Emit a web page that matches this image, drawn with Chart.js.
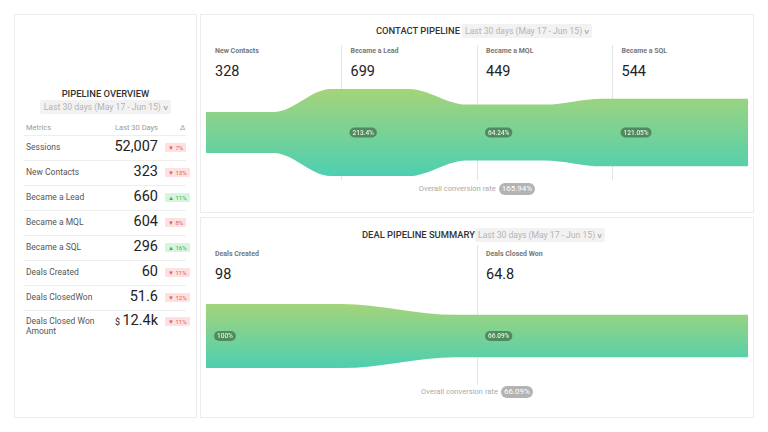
<!DOCTYPE html>
<html><head><meta charset="utf-8">
<script src="https://cdn.jsdelivr.net/npm/chart.js@4.4.1/dist/chart.umd.min.js"></script>
<style>
body{margin:0;width:768px;height:432px;background:#fff;font-family:Roboto,"Noto Sans",sans-serif;position:relative;overflow:hidden}
.panel{position:absolute;border:1px solid #ececec;box-sizing:border-box}
.abs{position:absolute;white-space:nowrap}
.title{font-size:9.4px;font-weight:500;color:#333}
.dd{background:#f2f2f2;color:#b4b4b4;font-size:8.6px;height:14px;line-height:14px;padding:0 3px;border-radius:2px;box-sizing:border-box}
.dd .chev{display:inline-block;margin-left:3px;font-size:7px;color:#999;transform:scaleX(1.4)}
.slabel{font-size:7px;font-weight:700;color:#777}
.sval{font-size:14.5px;color:#222}
.mlabel{font-size:8.5px;color:#555}
.mval{font-size:14.5px;color:#222;text-align:right}
.bdg{font-size:6px;height:9px;line-height:9px;padding:0 3px;border-radius:1px}
.neg{background:#fde0e0;color:#e35d5d}
.pos{background:#d8f4dd;color:#35b25a}
.sep{position:absolute;left:24px;width:162px;height:1px;background:#eeeeee}
.overall{position:absolute;text-align:center;font-size:7.6px;color:#aaa}
.overall .ob{display:inline-block;background:#b3b3b3;color:#fff;border-radius:6px;padding:0 3px;height:12px;line-height:12px;margin-left:3px;font-size:8px}
.cwrap{position:absolute}
</style></head>
<body>
<div class="panel" style="left:14px;top:14px;width:183px;height:404px"></div>
<div class="panel" style="left:200px;top:14px;width:554px;height:199px"></div>
<div class="panel" style="left:200px;top:217px;width:554px;height:201px"></div>

<div id="left"></div>
<div id="contact"></div>
<div id="deal"></div>

<div class="cwrap" style="left:206px;top:45px;width:542px;height:135px"><canvas id="c1"></canvas></div>
<div class="cwrap" style="left:206px;top:245px;width:542px;height:140px"><canvas id="c2"></canvas></div>

<script>
// ---------- data ----------
const metricNames = ['Sessions','New Contacts','Became a Lead','Became a MQL','Became a SQL','Deals Created','Deals ClosedWon','Deals Closed Won Amount'];
const metricValues = ['52,007','323','660','604','296','60','51.6','12.4k'];
const metricDeltas = [-7,-13,11,-8,16,-11,-12,-11];

const contactStages = ['New Contacts','Became a Lead','Became a MQL','Became a SQL'];
const contactValues = [328,699,449,544];
const contactRates = [null,'213.4%','64.24%','121.05%'];
const contactOverall = '165.94%';

const dealStages = ['Deals Created','Deals Closed Won'];
const dealValues = [98,64.8];
const dealRates = ['100%','66.09%'];
const dealOverall = '66.09%';

const periodLabel = 'Last 30 days (May 17 - Jun 15)';

// ---------- left table ----------
const L = document.getElementById('left');
let h = '';
h += '<div class="abs title" style="left:14px;width:183px;text-align:center;top:88px">PIPELINE OVERVIEW</div>';
h += '<div class="abs dd" style="left:40px;top:100px;width:131px;text-align:center">'+periodLabel+'<span class="chev">v</span></div>';
h += '<div class="abs" style="left:26px;top:123px;font-size:7.5px;color:#9a9a9a">Metrics</div>';
h += '<div class="abs" style="left:60px;width:98px;text-align:right;top:123px;font-size:7.5px;color:#9a9a9a">Last 30 Days</div>';
h += '<div class="abs" style="left:180px;top:123px;font-size:7.5px;color:#9a9a9a">Δ</div>';
metricNames.forEach((n,i)=>{
  const top = 135 + 25*i;
  h += '<div class="sep" style="top:'+top+'px"></div>';
  const cy = top + 12;
  const last = i === metricNames.length-1;
  if(last){
    h += '<div class="abs mlabel" style="left:26px;top:'+(cy-6)+'px;line-height:10px;white-space:normal;width:80px">Deals Closed Won<br>Amount</div>';
  } else {
    h += '<div class="abs mlabel" style="left:26px;top:'+(cy-6)+'px;line-height:12px">'+n+'</div>';
  }
  const vtop = last ? cy-10 : cy-9;
  const val = last ? '<span style="font-size:9px">$ </span>'+metricValues[i] : metricValues[i];
  h += '<div class="abs mval" style="left:60px;width:98px;top:'+vtop+'px;line-height:18px">'+val+'</div>';
  const d = metricDeltas[i];
  const cls = d<0?'neg':'pos';
  const arrow = d<0?'▼':'▲';
  const btop = last ? cy-5 : cy-4;
  h += '<div class="abs bdg '+cls+'" style="left:165px;top:'+btop+'px">'+arrow+' '+Math.abs(d)+'%</div>';
});
L.innerHTML = h;

// ---------- headers ----------
function stageHeaders(stages, values, left, width, labelTop){
  const w = width/stages.length;
  let s='';
  stages.forEach((st,i)=>{
    const x = left + w*i + 9;
    s += '<div class="abs slabel" style="left:'+x+'px;top:'+(labelTop+1)+'px">'+st+'</div>';
    s += '<div class="abs sval" style="left:'+x+'px;top:'+(labelTop+17)+'px">'+values[i]+'</div>';
  });
  return s;
}
document.getElementById('contact').innerHTML =
  '<div class="abs title" style="left:376px;top:25px">CONTACT PIPELINE</div>'+
  '<div class="abs dd" style="left:462px;top:24px">'+periodLabel+'<span class="chev">v</span></div>'+
  stageHeaders(contactStages, contactValues, 206, 542, 46)+
  '<div class="overall" style="left:200px;width:554px;top:183px">Overall conversion rate<span class="ob">'+contactOverall+'</span></div>';
document.getElementById('deal').innerHTML =
  '<div class="abs title" style="left:362px;top:229px">DEAL PIPELINE SUMMARY</div>'+
  '<div class="abs dd" style="left:475px;top:228px">'+periodLabel+'<span class="chev">v</span></div>'+
  stageHeaders(dealStages, dealValues, 206, 542, 249)+
  '<div class="overall" style="left:200px;width:554px;top:386px">Overall conversion rate<span class="ob">'+dealOverall+'</span></div>';

// ---------- funnels ----------
function funnelPoints(values, sign){
  const pts=[];
  values.forEach((v,i)=>{
    pts.push({x: i===0 ? 0 : i-0.08, y: sign*v/2});
    pts.push({x: i===values.length-1 ? values.length : i+0.5, y: sign*v/2});
  });
  return pts;
}
const badgePlugin = {
  id:'badges',
  afterDatasetsDraw(chart, args, opts){
    const c = chart.ctx, xs = chart.scales.x, ys = chart.scales.y;
    c.save();
    c.font = '500 6.5px Roboto';
    c.textBaseline = 'middle';
    opts.rates.forEach((r,i)=>{
      if(!r) return;
      const x = xs.getPixelForValue(i) + 8;
      const y = ys.getPixelForValue(0);
      const w = c.measureText(r).width + 6, hh = 10;
      c.fillStyle = 'rgba(62,112,72,0.72)';
      c.beginPath();
      c.roundRect(x, y-hh/2, w, hh, 5);
      c.fill();
      c.fillStyle = '#e4efe4';
      c.fillText(r, x+3, y+0.5);
    });
    c.restore();
  }
};
function makeFunnel(id, values, rates, yMin, yMax){
  const n = values.length;
  const maxV = Math.max(...values);
  const grad = (ctx)=>{
    const chart = ctx.chart;
    if(!chart.chartArea) return 'rgba(0,0,0,0)';
    const ys = chart.scales.y;
    const g = chart.ctx.createLinearGradient(0, ys.getPixelForValue(maxV/2), 0, ys.getPixelForValue(-maxV/2));
    g.addColorStop(0,'#a4d47a');
    g.addColorStop(1,'#4dcfb1');
    return g;
  };
  new Chart(document.getElementById(id), {
    type:'line',
    data:{datasets:[
      {data:funnelPoints(values,1), fill:'+1', backgroundColor:grad, borderColor:'rgba(0,0,0,0)', borderWidth:0, pointRadius:0, cubicInterpolationMode:'monotone'},
      {data:funnelPoints(values,-1), fill:false, borderColor:'rgba(0,0,0,0)', borderWidth:0, pointRadius:0, cubicInterpolationMode:'monotone'}
    ]},
    options:{
      responsive:true, maintainAspectRatio:false, animation:false, events:[],
      layout:{padding:0},
      plugins:{legend:{display:false}, tooltip:{enabled:false}, badges:{rates:rates}},
      scales:{
        x:{type:'linear', min:0, max:n, z:1,
           ticks:{display:false, stepSize:1},
           grid:{drawTicks:false, lineWidth:1, color:(c)=> (c.tick && c.tick.value>0 && c.tick.value<n) ? 'rgba(0,0,0,0.11)' : 'rgba(0,0,0,0)'},
           border:{display:false}},
        y:{display:false, min:yMin, max:yMax}
      }
    },
    plugins:[badgePlugin]
  });
}
makeFunnel('c1', contactValues, contactRates, -382, 703);
makeFunnel('c2', dealValues, dealRates, -75, 139);
</script>
</body></html>
